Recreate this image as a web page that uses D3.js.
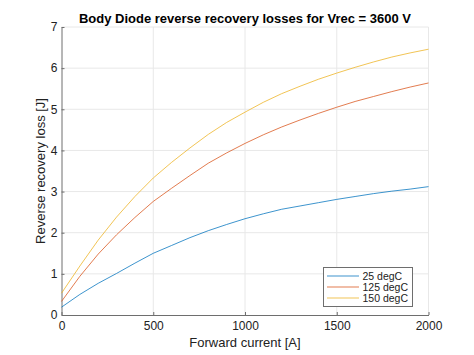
<!DOCTYPE html>
<html><head><meta charset="utf-8">
<script src="https://cdn.jsdelivr.net/npm/d3@7"></script>
<style>body{margin:0;background:#fff;} svg{display:block;font-family:"Liberation Sans",Arial,Helvetica,sans-serif;}</style>
</head><body><svg id="c" width="474" height="355"></svg>
<script>
const current = [0,100,200,300,400,500,600,700,800,900,1000,1100,1200,1300,1400,1500,1600,1700,1800,1900,2000];
const loss25  = [0.19,0.50,0.77,1.01,1.26,1.50,1.69,1.88,2.05,2.20,2.34,2.46,2.57,2.65,2.73,2.81,2.88,2.95,3.01,3.06,3.12];
const loss125 = [0.33,0.94,1.48,1.95,2.37,2.76,3.08,3.39,3.69,3.94,4.17,4.38,4.57,4.74,4.90,5.05,5.19,5.31,5.43,5.54,5.64];
const loss150 = [0.53,1.19,1.82,2.38,2.88,3.33,3.71,4.06,4.39,4.68,4.93,5.17,5.38,5.56,5.73,5.88,6.02,6.15,6.27,6.37,6.46];
const seriesNames = ["25 degC","125 degC","150 degC"];
const colors = ["#0072BD","#D95319","#EDB120"];
const xTicks = [0,500,1000,1500,2000];
const yTicks = [0,1,2,3,4,5,6,7];

const svg = d3.select("#c");
const L=61.5,R=428.5,T=27,B=315;
const x = d3.scaleLinear().domain([0,2000]).range([L,R]);
const y = d3.scaleLinear().domain([0,7]).range([B,T]);

// grid
svg.append("g").selectAll("line").data(xTicks.slice(1)).join("line")
  .attr("x1",d=>x(d)).attr("x2",d=>x(d)).attr("y1",B).attr("y2",T)
  .attr("stroke","#e8e8e8").attr("stroke-width",1);
svg.append("g").selectAll("line").data(yTicks.slice(1)).join("line")
  .attr("x1",L).attr("x2",R).attr("y1",d=>y(d)).attr("y2",d=>y(d))
  .attr("stroke","#e8e8e8").attr("stroke-width",1);

// axes
const xa = svg.append("g").attr("transform",`translate(0,${B})`)
  .call(d3.axisBottom(x).tickValues(xTicks).tickFormat(d3.format("d")).tickSizeInner(-3).tickSizeOuter(0).tickPadding(6));
const ya = svg.append("g").attr("transform",`translate(${L},0)`)
  .call(d3.axisLeft(y).tickValues(yTicks).tickFormat(d3.format("d")).tickSizeInner(-3).tickSizeOuter(0).tickPadding(4));
[xa,ya].forEach(a=>{
  a.select(".domain").attr("stroke","#6e6e6e");
  a.selectAll(".tick line").attr("stroke","#6e6e6e");
  a.selectAll("text").attr("fill","#222").attr("font-size","12px").attr("font-family","'Liberation Sans',Arial,sans-serif");
});

const data=[loss25,loss125,loss150];
const line = d3.line().x((d,i)=>x(current[i])).y(d=>y(d));
svg.append("g").selectAll("path").data(data).join("path")
  .attr("d",line).attr("fill","none").attr("stroke",(d,i)=>colors[i]).attr("stroke-width",0.85).attr("stroke-opacity",0.9);

// title & labels
svg.append("text").attr("x",245).attr("y",23).attr("text-anchor","middle")
  .attr("font-size","13px").attr("font-weight","bold").attr("fill","#000")
  .text("Body Diode reverse recovery losses for Vrec = 3600 V");
svg.append("text").attr("x",245).attr("y",347).attr("text-anchor","middle")
  .attr("font-size","13px").attr("fill","#222").text("Forward current [A]");
svg.append("text").attr("transform",`translate(45,${(T+B)/2}) rotate(-90)`).attr("text-anchor","middle")
  .attr("font-size","13px").attr("fill","#222").text("Reverse recovery loss [J]");

// legend
const lg = svg.append("g");
lg.append("rect").attr("x",323.5).attr("y",267.5).attr("width",89).attr("height",39)
  .attr("fill","#fff").attr("stroke","#6e6e6e").attr("stroke-width",1);
seriesNames.forEach((n,i)=>{
  const yy = 276 + i*11;
  lg.append("line").attr("x1",327).attr("x2",359).attr("y1",yy).attr("y2",yy)
    .attr("stroke",colors[i]).attr("stroke-width",0.85).attr("stroke-opacity",0.9);
  lg.append("text").attr("x",362.5).attr("y",yy+3.7).attr("font-size","10.5px").attr("fill","#222").text(n);
});
</script></body></html>
